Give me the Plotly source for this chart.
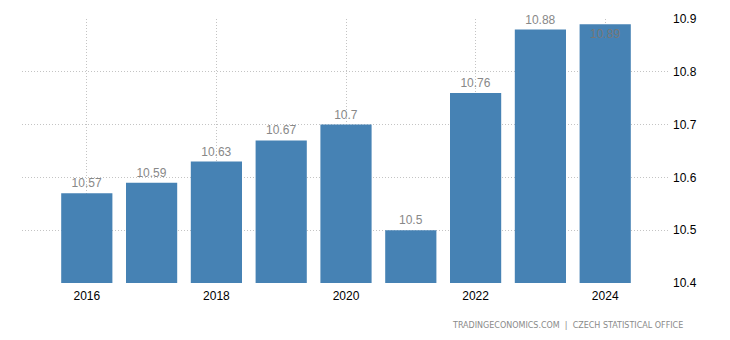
import plotly.graph_objects as go

# Annual values, 2016-2024
years = [2016, 2017, 2018, 2019, 2020, 2021, 2022, 2023, 2024]
values = [10.57, 10.59, 10.63, 10.67, 10.7, 10.5, 10.76, 10.88, 10.89]
y_ticks = [10.4, 10.5, 10.6, 10.7, 10.8, 10.9]
x_ticks = [2016, 2018, 2020, 2022, 2024]
source_text = "TRADINGECONOMICS.COM  |  CZECH STATISTICAL OFFICE"

BAR = "#4682B4"
LABEL = "#888888"
GRID = "#c4c4c4"
FONT = "Liberation Sans, Arial, sans-serif"

# The top bar reaches the frame edge, so its label sits inside the bar
positions = ["outside"] * (len(values) - 1) + ["inside"]

fig = go.Figure(
    go.Bar(
        x=years,
        y=values,
        marker=dict(color=BAR, line=dict(width=0)),
        text=[f"{v:g}" for v in values],
        textposition=positions,
        insidetextanchor="end",
        textfont=dict(family=FONT, size=12, color=LABEL),
        insidetextfont=dict(family=FONT, size=12, color="#777777"),
        outsidetextfont=dict(family=FONT, size=12, color=LABEL),
        cliponaxis=False,
        textangle=0,
        hoverinfo="x+y",
    )
)

fig.update_layout(
    width=730,
    height=340,
    margin=dict(l=22, r=60, t=19, b=57),
    paper_bgcolor="white",
    plot_bgcolor="white",
    bargap=0.21,
    showlegend=False,
    font=dict(family=FONT, size=12, color="#000000"),
    xaxis=dict(
        range=[2015, 2025],
        tickvals=x_ticks,
        ticktext=[str(t) for t in x_ticks],
        showgrid=True,
        gridcolor=GRID,
        griddash="1px,2px",
        gridwidth=1,
        zeroline=False,
        showline=False,
        ticks="",
        ticklabelstandoff=4,
        tickfont=dict(family=FONT, size=12, color="#000000"),
    ),
    yaxis=dict(
        range=[10.4, 10.9],
        side="right",
        tickvals=y_ticks,
        ticktext=[f"{t:.1f}" for t in y_ticks],
        showgrid=True,
        gridcolor=GRID,
        griddash="1px,2px",
        gridwidth=1,
        zeroline=False,
        showline=False,
        ticks="",
        ticklabelstandoff=2,
        tickfont=dict(family=FONT, size=12, color="#000000"),
    ),
    annotations=[
        dict(
            text=source_text,
            xref="paper",
            yref="paper",
            x=(685 - 22) / (730 - 22 - 60),
            y=-(325 - 283) / (283 - 19),
            xanchor="right",
            yanchor="middle",
            showarrow=False,
            font=dict(family="DejaVu Sans, sans-serif", size=8, color="#8a8a8a"),
        )
    ],
)

fig.write_html("out.html")
